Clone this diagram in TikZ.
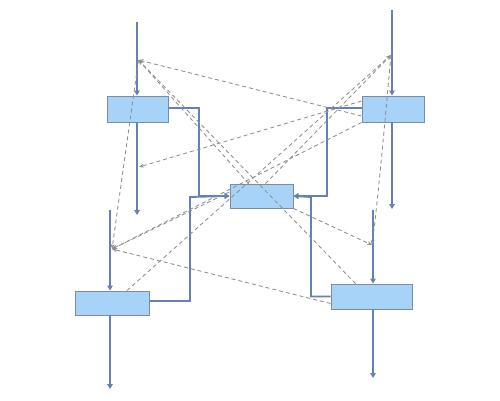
\documentclass[tikz,border=0pt]{standalone}
\usetikzlibrary{arrows.meta}
\definecolor{boxfill}{HTML}{A6D3F7}
\definecolor{boxline}{HTML}{7D8CA3}
\definecolor{flow}{HTML}{6480B5}
\definecolor{fb}{HTML}{8E8E8E}
\tikzset{
  blk/.style={draw=boxline, fill=boxfill, line width=0.9pt, inner sep=0pt},
  flowline/.style={draw=flow, line width=1.8pt, -{Triangle[length=5pt,width=5.5pt]}},
  fbline/.style={draw=fb, line width=0.85pt, dash pattern=on 4pt off 3pt, -{Stealth[length=5pt,width=4pt]}}
}
\begin{document}
\begin{tikzpicture}[x=1pt,y=-1pt]
\useasboundingbox (0,0) rectangle (500,400);
% boxes
\node[blk, minimum width=61pt, minimum height=26pt] (tl) at (137.5,109) {};
\node[blk, minimum width=62pt, minimum height=26pt] (tr) at (393,109) {};
\node[blk, minimum width=63pt, minimum height=24pt] (c)  at (261.5,196) {};
\node[blk, minimum width=74pt, minimum height=24pt] (bl) at (112,303) {};
\node[blk, minimum width=81pt, minimum height=25pt] (br) at (371.5,296.5) {};
% coordinates
\coordinate (tlin) at (137,22);
\coordinate (tlout) at (137,215);
\coordinate (trin) at (392,10);
\coordinate (trout) at (392,209);
\coordinate (blin) at (110,210);
\coordinate (blout) at (110,389);
\coordinate (brin) at (373,210);
\coordinate (brout) at (373,378);
\coordinate (k1) at (199,196);
\coordinate (k2) at (190,197);
\coordinate (k3) at (327,196);
\coordinate (k4) at (311,197);
\coordinate (p1) at (138.5,60);
\coordinate (p2) at (139,167);
\coordinate (p3) at (391,55);
\coordinate (p4) at (112,249);
\coordinate (p5) at (372,245);
% vertical flows
\draw[flowline] (tlin) -- (tlin |- tl.north);
\draw[flowline] (tlin |- tl.south) -- (tlout);
\draw[flowline] (trin) -- (trin |- tr.north);
\draw[flowline] (trin |- tr.south) -- (trout);
\draw[flowline] (blin) -- (blin |- bl.north);
\draw[flowline] (blin |- bl.south) -- (blout);
\draw[flowline] (brin) -- (brin |- br.north);
\draw[flowline] (brin |- br.south) -- (brout);
% orthogonal flows
\draw[flowline] ([yshift=1pt]tl.east) -| (k1) -- (c.west);
\draw[flowline] ([yshift=2pt]bl.east) -| (k2) -- (c.west);
\draw[flowline] ([yshift=1pt]tr.west) -| (k3) -- (c.east);
\draw[flowline] (br.west) -| (k4) -- (c.east);
% feedback lines
\draw[fbline] ([yshift=-7pt]tr.west) -- (p1);
\draw[fbline] ([xshift=-16pt]br.north) -- (p1);
\draw[fbline] ([xshift=-13pt]c.north) -- (p1);
\draw[fbline] (p1) -- (p4);
\draw[fbline] ([yshift=8pt]tr.west) -- (p2);
\draw[fbline] ([xshift=4pt]c.north) -- (p3);
\draw[fbline] ([xshift=15pt]bl.north) -- (p3);
\draw[fbline] (p3) .. controls (385,120) and (378,200) .. (p5);
\draw[fbline] (tr.south west) -- (p4);
\draw[fbline] ([yshift=4pt]c.west) -- (p4);
\draw[fbline] ([yshift=-7pt]br.west) -- (p4);
\draw[fbline] (c.south east) -- (p5);
\end{tikzpicture}
\end{document}
